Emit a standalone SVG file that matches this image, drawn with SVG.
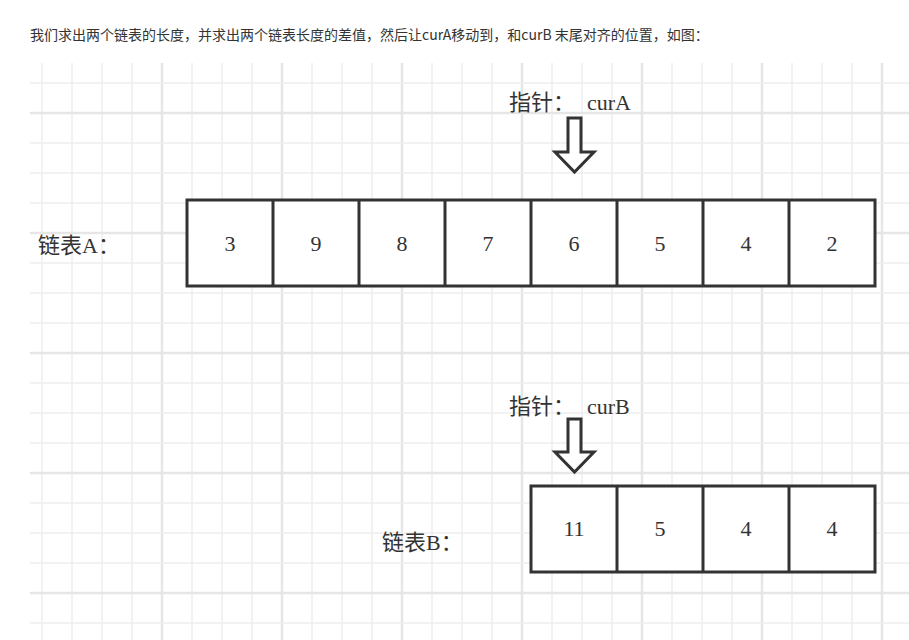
<svg xmlns="http://www.w3.org/2000/svg" width="909" height="640" viewBox="0 0 909 640">
<style>
.g{stroke:#eeeeee;stroke-width:1.5}
.G{stroke:#e6e6e6;stroke-width:2.5}
.box{fill:#fff;stroke:#333;stroke-width:3}
.t{font-family:"Liberation Serif","Noto Sans CJK SC",serif;font-size:22px;fill:#333}
.n{text-anchor:middle}
.arr{fill:#fff;stroke:#333;stroke-width:3;stroke-linejoin:miter}
</style>
<rect width="909" height="640" fill="#fff"/>
<text x="30" y="40" font-family="'Noto Sans CJK SC',sans-serif" font-size="14" fill="#333">我们求出两个链表的长度，并求出两个链表长度的差值，然后让curA移动到，和curB 末尾对齐的位置，如图：</text>
<g id="grid">
<path class="g" d="M42 63V640M72 63V640M102 63V640M132 63V640M192 63V640M222 63V640M252 63V640M312 63V640M342 63V640M372 63V640M432 63V640M462 63V640M492 63V640M552 63V640M582 63V640M612 63V640M672 63V640M702 63V640M732 63V640M792 63V640M822 63V640M852 63V640"/>
<path class="G" d="M162 63V640M282 63V640M402 63V640M522 63V640M642 63V640M762 63V640M882 63V640"/>
<path class="g" d="M30 83H909M30 143H909M30 173H909M30 203H909M30 263H909M30 293H909M30 323H909M30 383H909M30 413H909M30 443H909M30 503H909M30 533H909M30 563H909M30 623H909"/>
<path class="G" d="M30 113H909M30 233H909M30 353H909M30 473H909M30 593H909"/>
</g>
<g id="listA">
<rect class="box" x="187" y="200" width="688" height="86"/>
<path stroke="#333" stroke-width="3" d="M273 200V286M359 200V286M445 200V286M531 200V286M617 200V286M703 200V286M789 200V286"/>
<g class="t n">
<text x="230" y="251">3</text><text x="316" y="251">9</text><text x="402" y="251">8</text><text x="488" y="251">7</text>
<text x="574" y="251">6</text><text x="660" y="251">5</text><text x="746" y="251">4</text><text x="832" y="251">2</text>
</g>
<text class="t" x="38" y="253">链表A：</text>
</g>
<g id="listB">
<rect class="box" x="531" y="486" width="344" height="86"/>
<path stroke="#333" stroke-width="3" d="M617 486V572M703 486V572M789 486V572"/>
<g class="t n">
<text x="574" y="536">11</text><text x="660" y="536">5</text><text x="746" y="536">4</text><text x="832" y="536">4</text>
</g>
<text class="t" x="382" y="550">链表B：</text>
</g>
<g id="curA">
<text class="t" x="509" y="110">指针：<tspan x="587">curA</tspan></text>
<path class="arr" d="M568 118H581V152H594L574.5 172L555 152H568Z"/>
</g>
<g id="curB">
<text class="t" x="509" y="414">指针：<tspan x="587">curB</tspan></text>
<path class="arr" d="M568 419H581V452H594L574.5 472L555 452H568Z"/>
</g>
<g id="connectors"></g>
</svg>
